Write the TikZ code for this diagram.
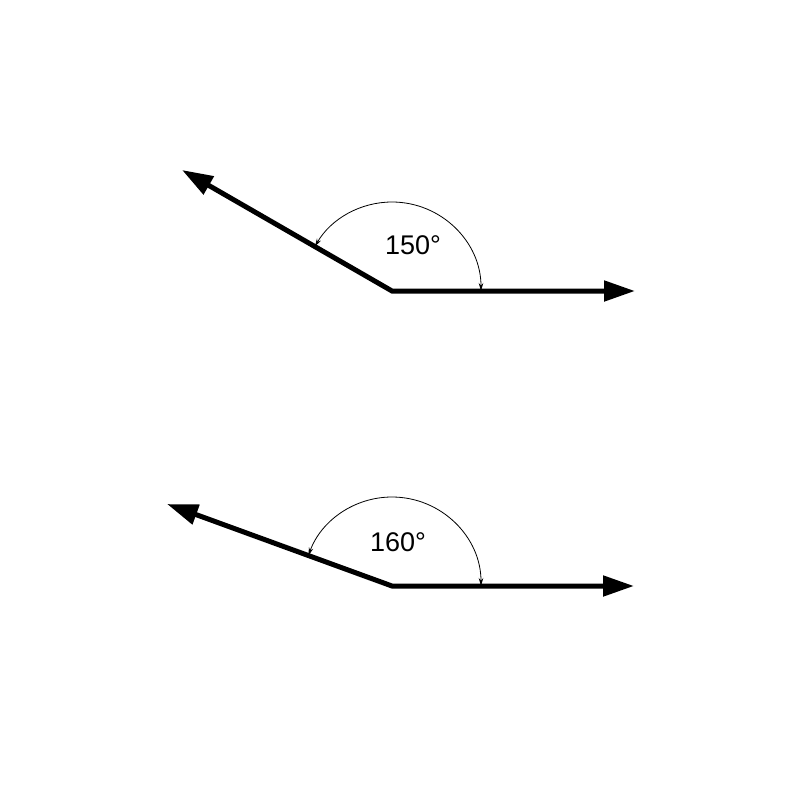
\documentclass[tikz,border=0pt]{standalone}
\usepackage{fontspec}
\setmainfont{Liberation Sans}
\usetikzlibrary{arrows.meta}
\tikzset{
  ray/.style={line width=5pt,{Triangle[length=31pt,width=20pt]}-{Triangle[length=31pt,width=20pt]}},
  anglearc/.style={line width=0.8pt,{Stealth[length=8pt,width=4.5pt]}-{Stealth[length=8pt,width=4.5pt]}},
  anglelabel/.style={font=\fontsize{27}{30}\selectfont,inner sep=0pt}
}
\begin{document}
\begin{tikzpicture}[x=1pt,y=-1pt]
\useasboundingbox[fill=white] (0,0) rectangle (800,800);
% top angle 150
\coordinate (v1) at (392,291);
\coordinate (r1) at (635,291);
\coordinate (l1) at (182,170);
\draw[ray] (l1) -- (v1) -- (r1);
\draw[anglearc] (v1) ++(0:89) arc[start angle=0,end angle=-150,radius=89];
\node[anglelabel] (t1) at (413,245) {150°};
% bottom angle 160
\coordinate (v2) at (392,586);
\coordinate (r2) at (634,586);
\coordinate (l2) at (167,504);
\draw[ray] (l2) -- (v2) -- (r2);
\draw[anglearc] (v2) ++(0:89) arc[start angle=0,end angle=-160,radius=89];
\node[anglelabel] (t2) at (398,542) {160°};
\end{tikzpicture}
\end{document}
